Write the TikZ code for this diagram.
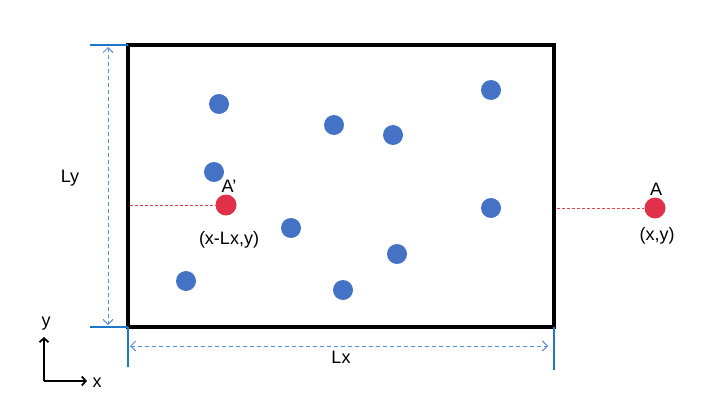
\documentclass[tikz,border=0pt]{standalone}
\usepackage{fontspec}
\setmainfont{Liberation Sans}
\usetikzlibrary{arrows.meta}
\definecolor{dotblue}{HTML}{4472C4}
\definecolor{dotred}{HTML}{E0304A}
\definecolor{tickblue}{HTML}{1E78C8}
\definecolor{dimblue}{HTML}{5B8DE0}
\definecolor{guidered}{HTML}{E8404A}
\tikzset{
  bluedot/.style={circle,minimum size=20pt,inner sep=0pt,fill=dotblue,draw=none},
  reddot/.style={circle,minimum size=21pt,inner sep=0pt,fill=dotred,draw=none},
  lbl/.style={font=\fontsize{18}{21}\selectfont,inner sep=0pt},
  tick/.style={tickblue,line width=2pt},
  dim/.style={dimblue,line width=0.9pt,dash pattern=on 4pt off 3pt,{Straight Barb[length=5pt,width=10pt]}-{Straight Barb[length=5pt,width=10pt]}},
  redguide/.style={guidered,line width=1pt,dash pattern=on 3pt off 2pt},
  axis/.style={-{Straight Barb[length=4pt,width=9pt]},line width=1.8pt,black}
}
\begin{document}
\begin{tikzpicture}[x=1pt,y=-1pt]
\useasboundingbox (0,0) rectangle (720,415);
% box
\coordinate (TL) at (128,45);
\coordinate (BR) at (554,327);
\draw[line width=3.2pt] (TL) rectangle (BR);
% blue ticks
\coordinate (t1a) at (90,45);
\coordinate (t1b) at (128,45);
\coordinate (t2a) at (90,327);
\coordinate (t2b) at (128,327);
\coordinate (t3b) at (128,367);
\coordinate (t4a) at (554,327);
\coordinate (t4b) at (554,370);
\draw[tick] (t1a) -- (t1b);
\draw[tick] (t2a) -- (t2b);
\draw[tick] (t2b) -- (t3b);
\draw[tick] (t4a) -- (t4b);
% dimensions
\coordinate (ly1) at (108,47);
\coordinate (ly2) at (108,325);
\coordinate (lx1) at (130,346);
\coordinate (lx2) at (548,346);
\draw[dim] (ly1) -- (ly2);
\draw[dim] (lx1) -- (lx2);
\node[lbl] (Ly) at (70,178) {Ly};
\node[lbl] (Lx) at (341,357) {Lx};
% blue dots
\node[bluedot] (b1) at (219,104) {};
\node[bluedot] (b2) at (334,125) {};
\node[bluedot] (b3) at (393,135) {};
\node[bluedot] (b4) at (491,90) {};
\node[bluedot] (b5) at (214,172) {};
\node[bluedot] (b6) at (291,228) {};
\node[bluedot] (b7) at (397,254) {};
\node[bluedot] (b8) at (343,290) {};
\node[bluedot] (b9) at (186,281) {};
\node[bluedot] (b10) at (491,208) {};
% red points
\node[reddot] (Ap) at (226,205) {};
\node[reddot] (A) at (655,208) {};
\node[lbl] (Aplbl) at (229,186) {A'};
\node[lbl] (Apc) at (229,240) {(x-Lx,y)};
\node[lbl] (Albl) at (656,189) {A};
\node[lbl] (Ac) at (657,236) {(x,y)};
\coordinate (g1) at (130,205);
\coordinate (g2) at (557,208);
\draw[redguide] (g1) -- (Ap.west);
\draw[redguide] (g2) -- (A.west);
% axes
\coordinate (O) at (44,381);
\coordinate (Oy) at (44,337);
\coordinate (Ox) at (87,381);
\draw[axis] (O) -- (Oy);
\draw[axis] (O) -- (Ox);
\node[lbl] (ylbl) at (46,324) {y};
\node[lbl] (xlbl) at (97,383) {x};
\end{tikzpicture}
\end{document}
